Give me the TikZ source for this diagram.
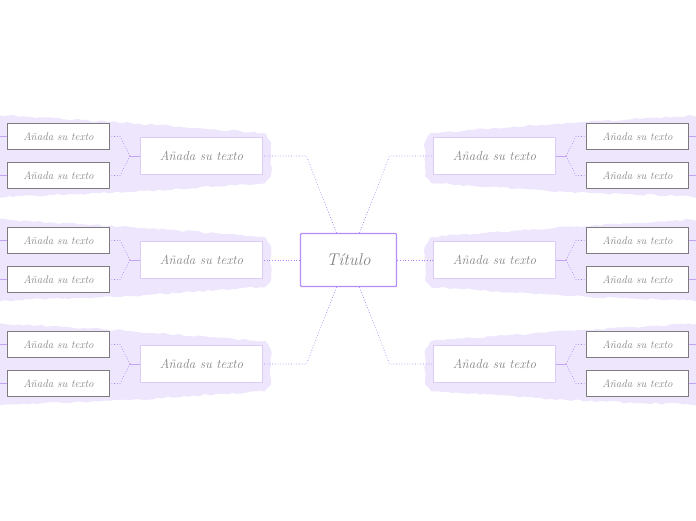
\documentclass[tikz,border=0pt]{standalone}
\usetikzlibrary{decorations.pathmorphing}
\definecolor{band}{HTML}{EDE6FD}
\definecolor{conn}{HTML}{A87EF2}
\definecolor{cbord}{HTML}{B48CF4}
\definecolor{mbord}{HTML}{DCCCF8}
\definecolor{sbord}{HTML}{7C7C7C}
\definecolor{txt}{HTML}{858585}
\tikzset{
  centerbox/.style={draw=cbord, line width=1.4pt, fill=white, rounded corners=1pt, minimum width=96pt, minimum height=53pt, inner sep=0pt, font=\fontsize{17}{20}\selectfont\itshape, text=txt},
  mainbox/.style={draw=mbord, line width=0.9pt, fill=white, minimum width=122pt, minimum height=37pt, inner sep=0pt, font=\fontsize{13}{15}\selectfont\itshape, text=txt},
  smallbox/.style={draw=sbord, line width=0.9pt, fill=white, minimum width=102pt, minimum height=26pt, inner sep=0pt, font=\fontsize{11}{13}\selectfont\itshape, text=txt},
  bandshape/.style={fill=band, decorate, decoration={random steps, segment length=4pt, amplitude=1.1pt}, rounded corners=1pt},
  dotconn/.style={draw=conn, line width=0.7pt, dotted},
  solconn/.style={draw=conn!70, line width=0.6pt},
}
\begin{document}
\begin{tikzpicture}[x=1pt,y=-1pt]
\pgfmathsetseed{7}
\useasboundingbox (0,0) rectangle (696,520);
% bands
\foreach \c in {156,260,364}{
  \path[bandshape] (-6,\c-41) -- (130,\c-33) -- (265,\c-23) -- (271,\c-14) -- (271,\c+20) -- (265,\c+27) -- (130,\c+36) -- (-6,\c+41) -- cycle;
  \path[bandshape] (702,\c-41) -- (566,\c-33) -- (431,\c-23) -- (425,\c-14) -- (425,\c+20) -- (431,\c+27) -- (566,\c+36) -- (702,\c+41) -- cycle;
}
% center
\node[centerbox] (T) at (348.5,260) {Título};
% main nodes
\node[mainbox] (L1) at (201.5,156) {Añada su texto};
\node[mainbox] (L2) at (201.5,260) {Añada su texto};
\node[mainbox] (L3) at (201.5,364) {Añada su texto};
\node[mainbox] (R1) at (494.5,156) {Añada su texto};
\node[mainbox] (R2) at (494.5,260) {Añada su texto};
\node[mainbox] (R3) at (494.5,364) {Añada su texto};
% small nodes
\foreach \i/\c in {1/156,2/260,3/364}{
  \node[smallbox] (La\i) at (58.5,\c-19.5) {Añada su texto};
  \node[smallbox] (Lb\i) at (58.5,\c+19.5) {Añada su texto};
  \node[smallbox] (Ra\i) at (637.5,\c-19.5) {Añada su texto};
  \node[smallbox] (Rb\i) at (637.5,\c+19.5) {Añada su texto};
  \coordinate (eLa\i) at (0,\c-19.5);
  \coordinate (eLb\i) at (0,\c+19.5);
  \coordinate (eRa\i) at (696,\c-19.5);
  \coordinate (eRb\i) at (696,\c+19.5);
  \draw[solconn] (La\i.west) -- (eLa\i);
  \draw[solconn] (Lb\i.west) -- (eLb\i);
  \draw[solconn] (Ra\i.east) -- (eRa\i);
  \draw[solconn] (Rb\i.east) -- (eRb\i);
  % branches
  \coordinate (jL\i) at (130,\c);
  \coordinate (jR\i) at (566,\c);
  \draw[solconn] (L\i.west) -- (jL\i);
  \draw[solconn] (R\i.east) -- (jR\i);
  \draw[dotconn] (jL\i) -- (120,\c-19.5) -- (La\i.east);
  \draw[dotconn] (jL\i) -- (120,\c+19.5) -- (Lb\i.east);
  \draw[dotconn] (jR\i) -- (576,\c-19.5) -- (Ra\i.west);
  \draw[dotconn] (jR\i) -- (576,\c+19.5) -- (Rb\i.west);
}
% center connectors
\draw[dotconn] ([xshift=-12pt]T.north) -- (306.5,156) -- (L1.east);
\draw[dotconn] ([xshift=11pt]T.north) -- (389.5,156) -- (R1.west);
\draw[dotconn] (T.west) -- (L2.east);
\draw[dotconn] (T.east) -- (R2.west);
\draw[dotconn] ([xshift=-12pt]T.south) -- (306.5,364) -- (L3.east);
\draw[dotconn] ([xshift=11pt]T.south) -- (389.5,364) -- (R3.west);
\end{tikzpicture}
\end{document}
